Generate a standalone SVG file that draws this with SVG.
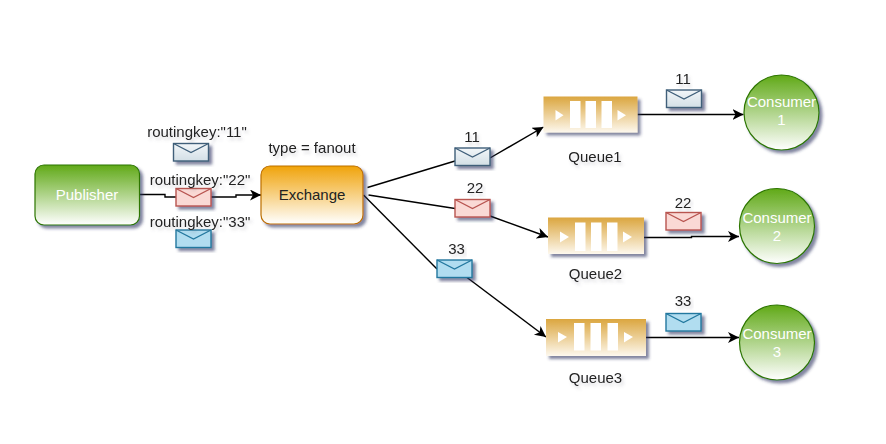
<svg xmlns="http://www.w3.org/2000/svg" width="886" height="444" viewBox="0 0 886 444">
<style>
text{font-family:"Liberation Sans",Arial,sans-serif;font-size:15px;fill:#222;text-anchor:middle}
.w{fill:#fff}
.c{fill:none;stroke:#000;stroke-width:1.4}
.s{filter:url(#sh)}
.env1{fill:url(#gEnv);stroke:#3f5f7a;stroke-width:1.4}
.env2{fill:#fad9d5;stroke:#b85450;stroke-width:1.4}
.env3{fill:#b1ddf0;stroke:#23789f;stroke-width:1.4}
.qb{fill:#fff}
</style>
<defs>
<filter id="sh" x="-20%" y="-20%" width="150%" height="150%"><feDropShadow dx="3" dy="3" stdDeviation="1.5" flood-color="#2c3560" flood-opacity="0.6"/></filter>
<filter id="ts" x="-10%" y="-30%" width="120%" height="170%"><feDropShadow dx="2" dy="3" stdDeviation="1.5" flood-color="#667" flood-opacity="0.25"/></filter>
<linearGradient id="gGreen" x1="0" y1="0" x2="0" y2="1"><stop offset="0" stop-color="#60a917"/><stop offset="1" stop-color="#fff"/></linearGradient>
<linearGradient id="gOrange" x1="0" y1="0" x2="0" y2="1"><stop offset="0" stop-color="#f0a30a"/><stop offset="1" stop-color="#fff"/></linearGradient>
<linearGradient id="gQueue" x1="0" y1="0" x2="0" y2="1"><stop offset="0" stop-color="#dba63f"/><stop offset="1" stop-color="#fdf8ee"/></linearGradient>
<linearGradient id="gEnv" x1="0" y1="0" x2="0" y2="1"><stop offset="0" stop-color="#f2f6f9"/><stop offset="1" stop-color="#d3dfe6"/></linearGradient>
<marker id="arrow" markerUnits="userSpaceOnUse" markerWidth="13" markerHeight="12" refX="11" refY="5.500" orient="auto"><path d="M0 0L11 5.500L0 11L3 5.500Z" fill="#000"/></marker>
<g id="envShape"><rect width="35" height="17.500"/><path d="M0 0L17.500 9L35 0" fill="none"/></g>
</defs>

<g id="connectors">
<path class="c" marker-end="url(#arrow)" d="M139.500 194.500H165V197H176M211 197H236V195H261"/>
<path class="c" d="M367.500 187.500L455 161"/>
<path class="c" marker-end="url(#arrow)" d="M490 158L543.500 127"/>
<path class="c" d="M368.500 195L455 208.500"/>
<path class="c" marker-end="url(#arrow)" d="M490 216L548 237"/>
<path class="c" d="M363.500 195L437 269"/>
<path class="c" marker-end="url(#arrow)" d="M467 277.500L546 337"/>
<path class="c" marker-end="url(#arrow)" d="M637.500 114.500H743.500"/>
<path class="c" marker-end="url(#arrow)" d="M644 237.500H691.500V236.500H739"/>
<path class="c" marker-end="url(#arrow)" d="M646 337.500H739"/>
</g>

<g id="publisher"><rect class="s" x="35" y="165" width="104.500" height="60" rx="9" fill="url(#gGreen)" stroke="#2d7600" stroke-width="1.200"/><text class="w" x="87" y="200">Publisher</text></g>

<g id="exchange"><rect class="s" x="261" y="166" width="102" height="58" rx="9" fill="url(#gOrange)" stroke="#bd7000" stroke-width="1.200"/><text x="312" y="200">Exchange</text></g>
<text id="type-label" x="312" y="153" filter="url(#ts)">type = fanout</text>

<g id="msg-pub-11"><text x="197" y="137" filter="url(#ts)">routingkey:"11"</text><use class="env1 s" href="#envShape" x="173.500" y="143.500"/></g>
<g id="msg-pub-22"><use class="env2 s" href="#envShape" x="176" y="188.500"/><text x="200" y="185" filter="url(#ts)">routingkey:"22"</text></g>
<g id="msg-pub-33"><use class="env3 s" href="#envShape" x="176" y="230"/><text x="200" y="227" filter="url(#ts)">routingkey:"33"</text></g>

<g id="msg-ex-11"><text x="472" y="141.500" filter="url(#ts)">11</text><use class="env1 s" href="#envShape" x="455" y="148"/></g>
<g id="msg-ex-22"><text x="475" y="192.500" filter="url(#ts)">22</text><use class="env2 s" href="#envShape" x="455" y="199.500"/></g>
<g id="msg-ex-33"><text x="456.500" y="253.500" filter="url(#ts)">33</text><use class="env3 s" href="#envShape" x="437" y="260"/></g>

<g id="queue1"><rect class="s" x="543.500" y="96.500" width="94" height="36" fill="url(#gQueue)"/><g class="qb"><path d="M555.500 110V120.500L563.500 115.200Z"/><rect x="570" y="101" width="10.500" height="27"/><rect x="585.500" y="101" width="10.500" height="27"/><rect x="601.500" y="101" width="10.500" height="27"/><path d="M617.500 110V120.500L626 115.200Z"/></g><text x="595" y="162" filter="url(#ts)">Queue1</text></g>
<g id="queue2"><rect class="s" x="548" y="217.500" width="96" height="36.500" fill="url(#gQueue)"/><g class="qb"><path d="M560 231.500V242.500L569 237Z"/><rect x="575" y="222.500" width="10.500" height="28.500"/><rect x="591" y="222.500" width="10.500" height="28.500"/><rect x="607" y="222.500" width="10.500" height="28.500"/><path d="M623 231.500V242.500L632 237Z"/></g><text x="595.500" y="279" filter="url(#ts)">Queue2</text></g>
<g id="queue3"><rect class="s" x="546" y="319" width="100" height="37" fill="url(#gQueue)"/><g class="qb"><path d="M558 332V342.500L567 337Z"/><rect x="574" y="323" width="10.500" height="27.500"/><rect x="590.500" y="323" width="10.500" height="27.500"/><rect x="607.500" y="323" width="10.500" height="27.500"/><path d="M624 332V342.500L633 337Z"/></g><text x="595.500" y="382.500" filter="url(#ts)">Queue3</text></g>

<g id="msg-q-11"><text x="683" y="83.500" filter="url(#ts)">11</text><use class="env1 s" href="#envShape" x="666.500" y="90"/></g>
<g id="msg-q-22"><text x="683" y="207.500" filter="url(#ts)">22</text><use class="env2 s" href="#envShape" x="666" y="212.500"/></g>
<g id="msg-q-33"><text x="683" y="305.500" filter="url(#ts)">33</text><use class="env3 s" href="#envShape" x="666" y="313.500"/></g>

<g id="consumer1"><circle class="s" cx="781.500" cy="112.500" r="37.500" fill="url(#gGreen)" stroke="#2d7600" stroke-width="1.200"/><text class="w" x="781.500" y="106.500">Consumer</text><text class="w" x="781.500" y="124.500">1</text></g>
<g id="consumer2"><circle class="s" cx="777" cy="226" r="37.500" fill="url(#gGreen)" stroke="#2d7600" stroke-width="1.200"/><text class="w" x="777" y="223">Consumer</text><text class="w" x="777" y="241">2</text></g>
<g id="consumer3"><circle class="s" cx="777" cy="342.500" r="37.500" fill="url(#gGreen)" stroke="#2d7600" stroke-width="1.200"/><text class="w" x="777" y="339">Consumer</text><text class="w" x="777" y="357">3</text></g>
</svg>
